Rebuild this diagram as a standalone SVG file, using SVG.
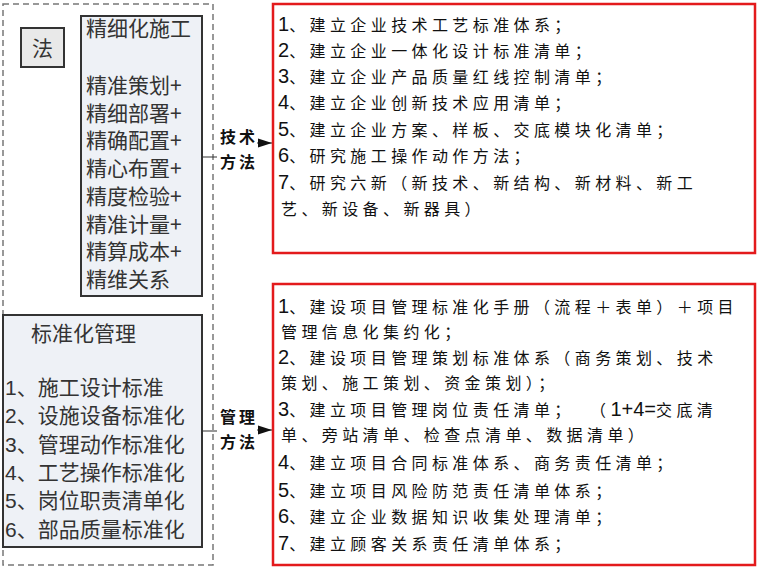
<svg xmlns="http://www.w3.org/2000/svg" width="760" height="570" viewBox="0 0 760 570">
<style>
.l{font-family:"Noto Sans CJK SC","Noto Sans",sans-serif;font-size:21px;fill:#333}
.ld{font-family:"Liberation Sans",Arial,sans-serif;font-size:21px}
.r{font-family:"Noto Sans CJK SC",sans-serif;font-size:16px;letter-spacing:4.4px;fill:#111}
.d{font-family:"Liberation Sans",Arial,sans-serif;font-size:20px;letter-spacing:0}
.lab{font-family:"Noto Sans CJK SC",sans-serif;font-size:16px;letter-spacing:3px;fill:#111;font-weight:bold}
.box{fill:#eef1f6;stroke:#333;stroke-width:2}
.red{fill:#fff;stroke:#e31a1c;stroke-width:2.5}
.conn{fill:none;stroke:#333;stroke-width:1.2}
</style>
<defs>
<marker id="ah" markerUnits="userSpaceOnUse" markerWidth="14" markerHeight="10" refX="14" refY="5" orient="auto">
<path d="M0,0.5 L14,5 L0,9.5 Z" fill="#111"/>
</marker>
</defs>
<rect width="760" height="570" fill="#fff"/>
<rect id="outer" x="3" y="4" width="210" height="561" fill="none" stroke="#777" stroke-width="1.5" stroke-dasharray="6 4"/>

<g id="fa">
<rect x="21" y="28" width="43" height="39" fill="#e9e9e9" stroke="#333" stroke-width="2"/>
<text class="l" x="42.5" y="56" text-anchor="middle">法</text>
</g>

<g id="jingxihua">
<rect class="box" x="81" y="16" width="121" height="280"/>
<text class="l" x="86" y="36">精细化施工</text>
<text class="l" x="86" y="93">精准策划+</text>
<text class="l" x="86" y="120.7">精细部署+</text>
<text class="l" x="86" y="148.4">精确配置+</text>
<text class="l" x="86" y="176">精心布置+</text>
<text class="l" x="86" y="203.8">精度检验+</text>
<text class="l" x="86" y="231.5">精准计量+</text>
<text class="l" x="86" y="259.2">精算成本+</text>
<text class="l" x="86" y="287">精维关系</text>
</g>

<g id="biaozhunhua">
<rect class="box" x="3" y="315" width="199" height="232"/>
<text class="l" x="31" y="341">标准化管理</text>
<text class="l" x="5" y="395"><tspan class="ld">1</tspan>、施工设计标准</text>
<text class="l" x="5" y="423.3"><tspan class="ld">2</tspan>、设施设备标准化</text>
<text class="l" x="5" y="451.6"><tspan class="ld">3</tspan>、管理动作标准化</text>
<text class="l" x="5" y="480"><tspan class="ld">4</tspan>、工艺操作标准化</text>
<text class="l" x="5" y="508.2"><tspan class="ld">5</tspan>、岗位职责清单化</text>
<text class="l" x="5" y="536.5"><tspan class="ld">6</tspan>、部品质量标准化</text>
</g>

<g id="connectors">
<path class="conn" d="M202,157 H238 V143 H272" marker-end="url(#ah)"/>
<path class="conn" d="M202,431 H238 V430 H272" marker-end="url(#ah)"/>
<rect x="217" y="124" width="40" height="52" fill="#fff"/>
<rect x="217" y="402" width="40" height="52" fill="#fff"/>
<text class="lab" x="220" y="143">技术</text>
<text class="lab" x="220" y="168">方法</text>
<text class="lab" x="220" y="423">管理</text>
<text class="lab" x="220" y="448">方法</text>
</g>

<g id="jishu">
<rect class="red" x="273" y="4" width="482" height="249"/>
<text class="r" x="278" y="31"><tspan class="d">1</tspan>、建立企业技术工艺标准体系；</text>
<text class="r" x="278" y="57"><tspan class="d">2</tspan>、建立企业一体化设计标准清单；</text>
<text class="r" x="278" y="83"><tspan class="d">3</tspan>、建立企业产品质量红线控制清单；</text>
<text class="r" x="278" y="109"><tspan class="d">4</tspan>、建立企业创新技术应用清单；</text>
<text class="r" x="278" y="136"><tspan class="d">5</tspan>、建立企业方案、样板、交底模块化清单；</text>
<text class="r" x="278" y="162"><tspan class="d">6</tspan>、研究施工操作动作方法；</text>
<text class="r" x="278" y="189"><tspan class="d">7</tspan>、研究六新（新技术、新结构、新材料、新工</text>
<text class="r" x="281" y="215">艺、新设备、新器具）</text>
</g>

<g id="guanli">
<rect class="red" x="273" y="284" width="482" height="281"/>
<text class="r" x="278" y="313"><tspan class="d">1</tspan>、建设项目管理标准化手册（流程＋表单）＋项目</text>
<text class="r" x="281" y="338">管理信息化集约化；</text>
<text class="r" x="278" y="364"><tspan class="d">2</tspan>、建设项目管理策划标准体系（商务策划、技术</text>
<text class="r" x="281" y="389">策划、施工策划、资金策划）；</text>
<text class="r" x="278" y="416"><tspan class="d">3</tspan>、建立项目管理岗位责任清单；</text>
<text class="r" x="590" y="416">（<tspan class="d">1+4=</tspan>交底清</text>
<text class="r" x="281" y="441">单、旁站清单、检查点清单、数据清单）</text>
<text class="r" x="278" y="469"><tspan class="d">4</tspan>、建立项目合同标准体系、商务责任清单；</text>
<text class="r" x="278" y="497"><tspan class="d">5</tspan>、建立项目风险防范责任清单体系；</text>
<text class="r" x="278" y="523"><tspan class="d">6</tspan>、建立企业数据知识收集处理清单；</text>
<text class="r" x="278" y="550"><tspan class="d">7</tspan>、建立顾客关系责任清单体系；</text>
</g>
</svg>
